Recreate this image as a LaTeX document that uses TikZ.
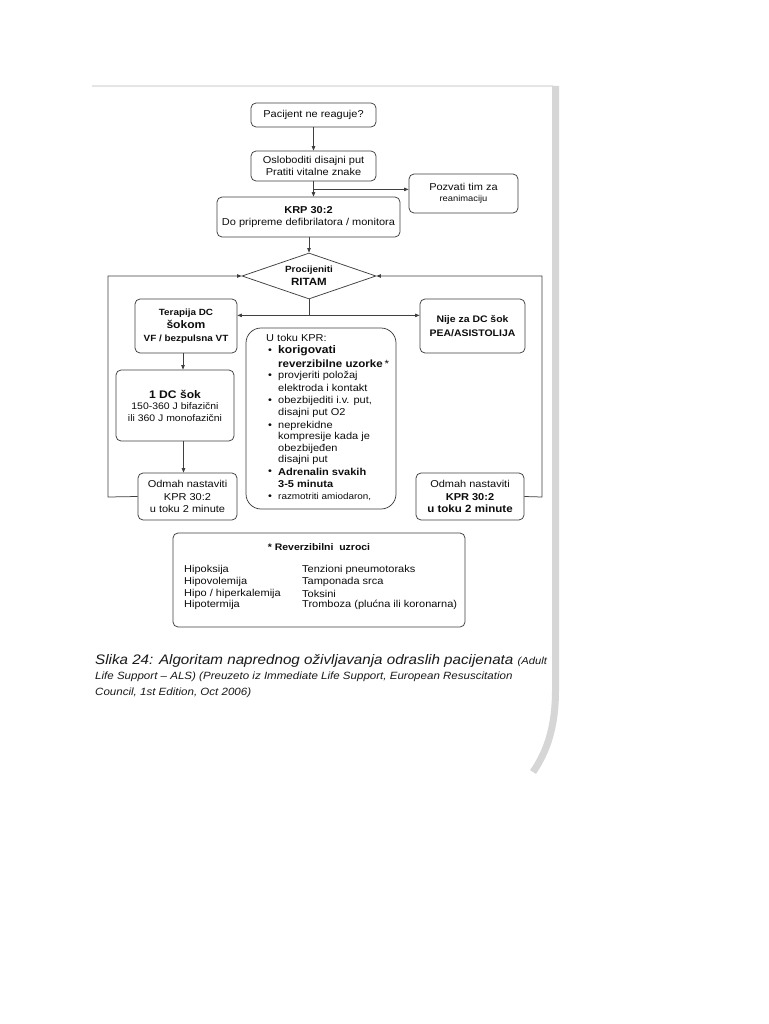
\documentclass[tikz,border=0pt]{standalone}
\usepackage{fontspec}
\setmainfont[FakeStretch=1.1]{Liberation Sans}
\usetikzlibrary{shapes.geometric,arrows.meta,calc}
\begin{document}
\begin{tikzpicture}[x=1pt,y=-1pt,
 box/.style={draw=black!75, line width=0.75pt, rounded corners=5pt, align=center, inner sep=1pt, font=\fontsize{10}{12}\selectfont, text=black!95},
 arr/.style={draw=black!75, line width=0.75pt, -{Triangle[length=4.5pt,width=3.5pt]}},
 ln/.style={draw=black!75, line width=0.75pt},
 lt/.style={anchor=west, inner sep=0pt, font=\fontsize{10}{12}\selectfont, text=black!95},
 captxt/.style={anchor=west, inner sep=0pt, text=black!90},
]
\useasboundingbox (0,0) rectangle (768,1024);
\fill[white] (0,0) rectangle (768,1024);
% page frame
\draw[black!10, line width=1.5pt] (92,86) -- (553,86);
\draw[black!16, line width=7pt] (555.5,86) -- (555.5,690) .. controls (555.5,725) and (548,750) .. (533,772);

% boxes
\node[box, minimum width=125, minimum height=24] (b1) at (313.5,115) {Pacijent ne reaguje?};
\node[box, minimum width=125, minimum height=30] (b2) at (313.5,166) {Osloboditi disajni put\\Pratiti vitalne znake};
\node[box, minimum width=109, minimum height=39] (poz) at (463.5,193.5) {Pozvati tim za\\[-1pt]{\fontsize{8.5}{10}\selectfont reanimaciju}};
\node[box, minimum width=183, minimum height=40] (krp) at (308.5,217) {\textbf{KRP 30:2}\\Do pripreme defibrilatora / monitora};
\node[draw=black!75, line width=0.75pt, diamond, aspect=2.9, minimum width=134, minimum height=46, inner sep=0pt, align=center, text=black!95] (dia) at (309,276) {{\fontsize{9}{11}\selectfont\textbf{Procijeniti}}\\[1pt]{\fontsize{10.5}{12}\selectfont\textbf{RITAM}}};
\node[box, minimum width=102, minimum height=54, font=\fontsize{9}{13}\selectfont\bfseries] (ter) at (186,326) {Terapija DC\\{\fontsize{11}{13}\selectfont šokom}\\VF / bezpulsna VT};
\node[box, minimum width=105, minimum height=54, font=\fontsize{9.5}{14}\selectfont\bfseries] (nije) at (472.5,326) {Nije za DC šok\\PEA/ASISTOLIJA};
\node[box, rounded corners=15pt, minimum width=150, minimum height=181] (kpr) at (321,418.5) {};
\node[box, minimum width=118, minimum height=71, font=\fontsize{9.5}{11.5}\selectfont] (dc) at (175,405.5) {{\fontsize{11}{13}\selectfont\textbf{1 DC šok}}\\150-360 J bifazični\\ili 360 J monofazični};
\node[box, minimum width=99, minimum height=47, font=\fontsize{10}{12.5}\selectfont] (odl) at (187.5,496.5) {Odmah nastaviti\\KPR 30:2\\u toku 2 minute};
\node[box, minimum width=108, minimum height=47, font=\fontsize{10}{12.5}\selectfont] (odr) at (470,496.5) {Odmah nastaviti\\\textbf{KPR 30:2}\\{\fontsize{10.5}{12.5}\selectfont\textbf{u toku 2 minute}}};
\node[box, minimum width=292, minimum height=94] (rev) at (319,580) {};

% KPR list
\node[lt] (k0) at (266,338) {U toku KPR:};
\node[lt] (u1) at (268,351) {•};
\node[lt] (u2) at (268,376) {•};
\node[lt] (u3) at (268,401) {•};
\node[lt] (u4) at (268,426) {•};
\node[lt] (u5) at (268,472) {•};
\node[lt] (u6) at (268,497) {•};
\node[lt, font=\fontsize{11}{12}\selectfont\bfseries] (k1) at (278,351) {korigovati};
\node[lt, font=\fontsize{10.5}{12}\selectfont\bfseries] (k2) at (278,364) {reverzibilne uzorke\,{\mdseries*}};
\node[lt] (k3) at (278,376) {provjeriti položaj};
\node[lt] (k4) at (278,388) {elektroda i kontakt};
\node[lt] (k5) at (278,401) {obezbijediti i.v. put,};
\node[lt] (k6) at (278,413) {disajni put O2};
\node[lt] (k7) at (278,426) {neprekidne};
\node[lt] (k8) at (278,437) {kompresije kada je};
\node[lt] (k9) at (278,449) {obezbijeđen};
\node[lt] (k10) at (278,460) {disajni put};
\node[lt, font=\fontsize{10}{12}\selectfont\bfseries] (k11) at (278,472) {Adrenalin svakih};
\node[lt, font=\fontsize{10}{12}\selectfont\bfseries] (k12) at (278,484) {3-5 minuta};
\node[lt, font=\fontsize{9}{12}\selectfont] (k13) at (278,497) {razmotriti amiodaron,};

% reversible causes
\node[inner sep=0pt, font=\fontsize{9.5}{12}\selectfont\bfseries, text=black!95] (rt) at (319,547) {* Reverzibilni\ \ uzroci};
\node[lt] (r1) at (184,570) {Hipoksija};
\node[lt] (r2) at (184,582) {Hipovolemija};
\node[lt] (r3) at (184,594) {Hipo / hiperkalemija};
\node[lt] (r4) at (184,605) {Hipotermija};
\node[lt] (s1) at (302,570) {Tenzioni pneumotoraks};
\node[lt] (s2) at (302,582) {Tamponada srca};
\node[lt] (s3) at (302,594) {Toksini};
\node[lt] (s4) at (302,605) {Tromboza (plućna ili koronarna)};

% caption
\node[captxt] (c1) at (95,661) {\fontsize{13.8}{15}\selectfont\itshape Slika 24: Algoritam naprednog oživljavanja odraslih pacijenata {\fontsize{10.2}{12}\selectfont (Adult}};
\node[captxt] (c2) at (95,677) {\fontsize{10.5}{12}\selectfont\itshape Life Support – ALS) (Preuzeto iz Immediate Life Support, European Resuscitation};
\node[captxt] (c3) at (95,693) {\fontsize{10.5}{12}\selectfont\itshape Council, 1st Edition, Oct 2006)};

% connectors
\draw[arr] (b1.south) -- (b2.north);
\draw[arr] (b2.south) -- (b2.south |- krp.north);
\coordinate (br) at ($(b2.south)+(0,8)$);
\draw[arr] (br) -- (br -| poz.west);
\draw[arr] (krp.south -| dia.north) -- (dia.north);
\coordinate (sp) at ($(dia.south)+(0,16)$);
\draw[ln] (dia.south) -- (sp);
\draw[arr] (sp) -- (sp -| ter.east);
\draw[arr] (sp) -- (sp -| nije.west);
\draw[arr] ($(ter.south)+(-3,0)$) -- ($(ter.south |- dc.north)+(-3,0)$);
\draw[arr] (dc.south -| odl.north) ++(-4,0) coordinate (a1) -- (a1 |- odl.north);
\coordinate (lp) at (108,497);
\coordinate (rp) at (542,497);
\draw[arr] (odl.west) -- (lp) |- (dia.west);
\draw[arr] (odr.east) -- (rp) |- (dia.east);
\end{tikzpicture}
\end{document}
